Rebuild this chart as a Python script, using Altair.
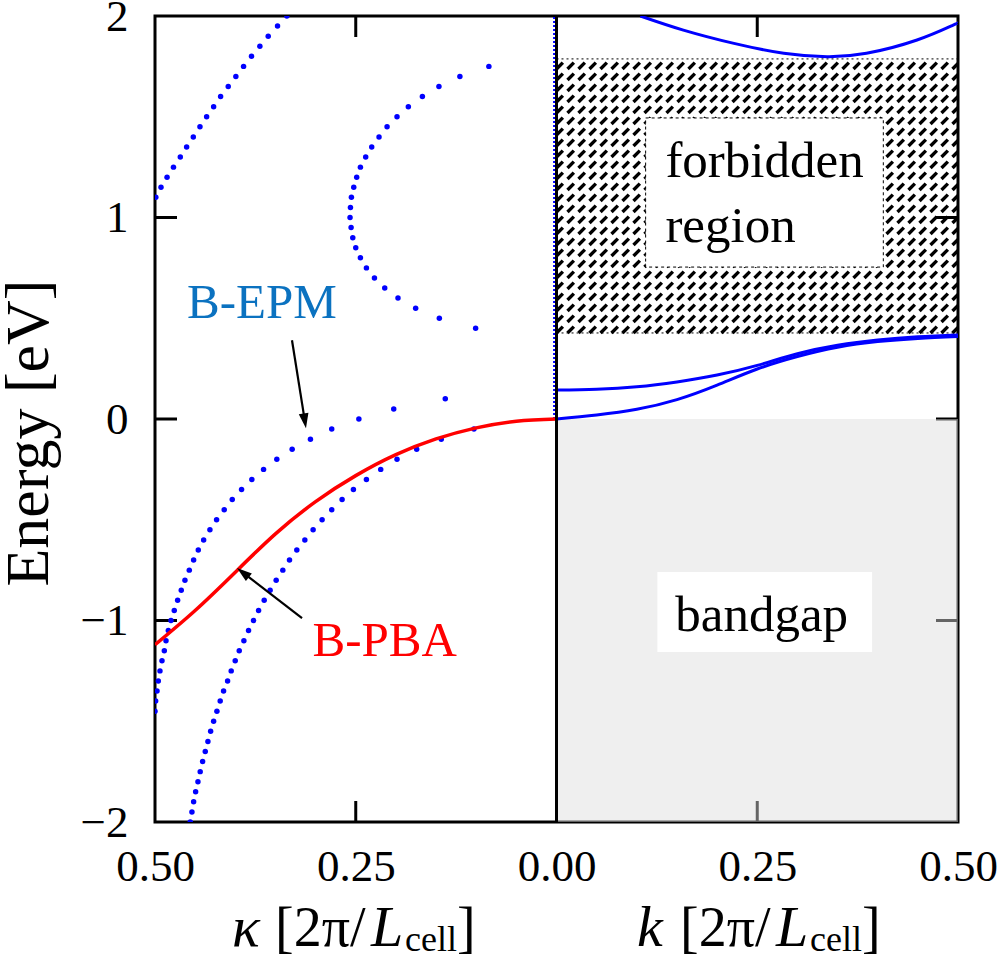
import altair as alt
import numpy as np
import pandas as pd

# ---------------- data ----------------
x_tick_values = [-0.5, -0.25, 0.0, 0.25, 0.5]
y_tick_values = [-2, -1, 0, 1, 2]
inner_x_ticks = [-0.25, 0.25]
inner_y_ticks = [1, 0, -1]

# imaginary branches (left panel, kappa), dots every 0.05 eV
epm_a_E = [1.10, 1.15, 1.20, 1.25, 1.30, 1.35, 1.40, 1.45, 1.50, 1.55, 1.60, 1.65, 1.70,
           1.75, 1.80, 1.85, 1.90, 1.95, 2.00]
epm_a_kappa = [0.499, 0.4925, 0.485, 0.477, 0.4685, 0.4606, 0.4523, 0.444, 0.4357, 0.427,
               0.4183, 0.4088, 0.3993, 0.3897, 0.3798, 0.3694, 0.359, 0.3474, 0.3358]

epm_b_E = [0.45, 0.50, 0.55, 0.60, 0.65, 0.70, 0.75, 0.80, 0.85, 0.90, 0.95, 1.00, 1.05,
           1.10, 1.15, 1.20, 1.25, 1.30, 1.35, 1.40, 1.45, 1.50, 1.55, 1.60, 1.65, 1.70, 1.75]
epm_b_kappa = [0.1007, 0.1459, 0.1754, 0.1974, 0.2139, 0.2267, 0.2367, 0.2442, 0.25, 0.2537,
               0.2558, 0.2571, 0.2566, 0.2554, 0.2525, 0.2488, 0.2442, 0.2376, 0.2301, 0.221,
               0.211, 0.1986, 0.1845, 0.167, 0.1464, 0.1203, 0.0842]

epm_c_E = [0.10, 0.05, 0.00, -0.05, -0.10, -0.15, -0.20, -0.25, -0.30, -0.35, -0.40, -0.45,
           -0.50, -0.55, -0.60, -0.65, -0.70, -0.75, -0.80, -0.85, -0.90, -0.95, -1.00,
           -1.05, -1.10, -1.15, -1.20, -1.25, -1.30, -1.35, -1.40, -1.45]
epm_c_kappa = [0.1385, 0.2027, 0.2461, 0.2799, 0.3064, 0.3292, 0.3483, 0.3648, 0.3794,
               0.3922, 0.4038, 0.4138, 0.4233, 0.4316, 0.4394, 0.4461, 0.4519, 0.4573,
               0.4627, 0.4673, 0.4718, 0.476, 0.4801, 0.4834, 0.4863, 0.4884, 0.4913,
               0.4938, 0.4959, 0.4975, 0.4992, 0.5]

epm_d_E = [-0.05, -0.10, -0.15, -0.20, -0.25, -0.30, -0.35, -0.40, -0.45, -0.50, -0.55,
           -0.60, -0.65, -0.70, -0.75, -0.80, -0.85, -0.90, -0.95, -1.00, -1.05, -1.10,
           -1.15, -1.20, -1.25, -1.30, -1.35, -1.40, -1.45, -1.50, -1.55, -1.60, -1.65,
           -1.70, -1.75, -1.80, -1.85, -1.90, -1.95, -2.00]
epm_d_kappa = [0.1028, 0.1435, 0.1741, 0.1986, 0.2189, 0.2367, 0.2529, 0.267, 0.2799,
               0.2919, 0.3031, 0.3134, 0.3234, 0.3325, 0.3408, 0.3491, 0.3566, 0.364,
               0.371, 0.3773, 0.3835, 0.3893, 0.3951, 0.4001, 0.4051, 0.4096, 0.4146,
               0.4188, 0.4229, 0.427, 0.4307, 0.4341, 0.4374, 0.4407, 0.4437, 0.4465,
               0.4494, 0.4519, 0.454, 0.4561]

# kappa ~ 0 branch (drawn as a dotted line along the divider)
epm_zero_kappa = [0.003, 0.003]
epm_zero_E = [0.0, 2.0]

# B-PBA (red)
pba_kappa = [0.0, 0.05, 0.1, 0.15, 0.2, 0.25, 0.3, 0.35, 0.4, 0.45, 0.5]
pba_E = [0.0, -0.011, -0.044, -0.099, -0.177, -0.281, -0.41, -0.57, -0.76, -0.95, -1.12]

# real bands (right panel, k)
band_k = [0.0, 0.05, 0.1, 0.15, 0.2, 0.25, 0.3, 0.35, 0.4, 0.45, 0.5]
band1_E = [0.0, 0.02, 0.048, 0.096, 0.168, 0.248, 0.31, 0.356, 0.384, 0.40, 0.41]
band2_E = [0.144, 0.148, 0.16, 0.184, 0.218, 0.266, 0.324, 0.366, 0.392, 0.408, 0.417]
band3_k = [0.1045, 0.158, 0.221, 0.283, 0.337, 0.386, 0.449, 0.494, 0.5]
band3_E = [2.0, 1.93, 1.864, 1.815, 1.798, 1.815, 1.881, 1.955, 1.963]

# regions
forbidden_k = [0.0, 0.5]
forbidden_E = [0.427, 1.787]
forbidden_box_k = [0.111, 0.407]
forbidden_box_E = [0.754, 1.494]
bandgap_k = [0.0, 0.5]
bandgap_E = [-2.0, 0.0]
bandgap_box_k = [0.1256, 0.393]
bandgap_box_E = [-1.156, -0.759]

# ---------------- chart ----------------
FONT = "Liberation Serif"
W, H = 803, 806
BLUE = "#0000ff"
RED = "#ff0000"

xs = alt.Scale(domain=[-0.5, 0.5], nice=False, zero=False)
ys = alt.Scale(domain=[-2, 2], nice=False, zero=False)
AX = alt.Axis(values=x_tick_values, labelExpr="format(abs(datum.value), '.2f')",
              ticks=False, domain=False, grid=False, title=None,
              labelFont=FONT, labelFontSize=45, labelColor="black",
              labelPadding=22, labelFlush=False, labelOverlap=False, labelBound=False)
AY = alt.Axis(values=y_tick_values, format="d",
              ticks=False, domain=False, grid=False, title=None,
              labelFont=FONT, labelFontSize=45, labelColor="black",
              labelPadding=27, labelFlush=False, labelOverlap=False, labelBound=False)


def X(f="x"):
    return alt.X(f"{f}:Q", scale=xs, axis=AX)


def Y(f="y"):
    return alt.Y(f"{f}:Q", scale=ys, axis=AY)


layers = []

# --- inward ticks ---
tx = pd.DataFrame({"x": inner_x_ticks})
ty = pd.DataFrame({"y": inner_y_ticks})
tick = dict(color="black", strokeWidth=3)
layers.append(alt.Chart(tx).mark_rule(**tick).encode(x=X(), y=alt.value(0), y2=alt.value(21)))
layers.append(alt.Chart(tx).mark_rule(**tick).encode(x=X(), y=alt.value(H - 21), y2=alt.value(H)))
layers.append(alt.Chart(ty).mark_rule(**tick).encode(y=Y(), x=alt.value(0), x2=alt.value(22)))
layers.append(alt.Chart(ty).mark_rule(**tick).encode(y=Y(), x=alt.value(W - 22), x2=alt.value(W)))

# --- bandgap shading ---
bg = pd.DataFrame({"x": [bandgap_k[0]], "x2": [bandgap_k[1]], "y": [bandgap_E[0]], "y2": [bandgap_E[1]]})
layers.append(alt.Chart(bg).mark_rect(color="#dcdcdc", opacity=0.46).encode(
    x=X(), x2="x2:Q", y=Y(), y2="y2:Q"))
bgb = pd.DataFrame({"x": [bandgap_box_k[0]], "x2": [bandgap_box_k[1]],
                    "y": [bandgap_box_E[0]], "y2": [bandgap_box_E[1]]})
layers.append(alt.Chart(bgb).mark_rect(color="white").encode(x=X(), x2="x2:Q", y=Y(), y2="y2:Q"))

# --- forbidden region hatch ---
px_x = W / 1.0
px_y = H / 4.0
Wp = (forbidden_k[1] - forbidden_k[0]) * px_x
Hp = (forbidden_E[1] - forbidden_E[0]) * px_y
sp = 11.0
rows = []
c = -np.floor(Hp / sp) * sp
while c < Wp:
    u0 = max(0.0, c)
    u1 = min(Wp, Hp + c)
    if u1 > u0:
        rows.append(dict(x=forbidden_k[0] + u0 / px_x, y=forbidden_E[0] + (u0 - c) / px_y,
                         x2=forbidden_k[0] + u1 / px_x, y2=forbidden_E[0] + (u1 - c) / px_y))
    c += sp
hatch = pd.DataFrame(rows)
layers.append(alt.Chart(hatch).mark_rule(color="black", strokeWidth=3.4,
                                         strokeDash=[9.0, sp * np.sqrt(2) - 9.0],
                                         strokeCap="butt").encode(
    x=X(), y=Y(), x2="x2:Q", y2="y2:Q"))
fr = pd.DataFrame({"x": [forbidden_k[0]], "x2": [forbidden_k[1]],
                   "y": [forbidden_E[0]], "y2": [forbidden_E[1]]})
layers.append(alt.Chart(fr).mark_rect(fillOpacity=0, stroke="black", strokeWidth=1,
                                      strokeDash=[2, 3]).encode(x=X(), x2="x2:Q", y=Y(), y2="y2:Q"))
frb = pd.DataFrame({"x": [forbidden_box_k[0]], "x2": [forbidden_box_k[1]],
                    "y": [forbidden_box_E[0]], "y2": [forbidden_box_E[1]]})
layers.append(alt.Chart(frb).mark_rect(fill="white", stroke="black", strokeWidth=1,
                                       strokeDash=[3, 3]).encode(x=X(), x2="x2:Q", y=Y(), y2="y2:Q"))

# --- region labels ---
reg_txt = pd.DataFrame({"x": [0.1356, 0.1356, 0.148], "y": [1.201, 0.878, -1.052],
                        "t": ["forbidden", "region", "bandgap"]})
layers.append(alt.Chart(reg_txt).mark_text(font=FONT, fontSize=51, align="left",
                                           baseline="alphabetic", color="black").encode(
    x=X(), y=Y(), text="t:N"))

# --- real bands (right) ---
bands = pd.concat([
    pd.DataFrame({"x": band_k, "y": band1_E, "b": "1"}),
    pd.DataFrame({"x": band_k, "y": band2_E, "b": "2"}),
    pd.DataFrame({"x": band3_k, "y": band3_E, "b": "3"}),
])
layers.append(alt.Chart(bands).mark_line(color=BLUE, strokeWidth=3, interpolate="natural",
                                         clip=True).encode(
    x=X(), y=Y(), detail="b:N"))

# --- kappa ~ 0 dotted line ---
z = pd.DataFrame({"x": [-k for k in epm_zero_kappa], "y": epm_zero_E})
layers.append(alt.Chart(z).mark_line(color=BLUE, strokeWidth=2, strokeDash=[2, 2]).encode(
    x=X(), y=Y()))

# --- imaginary branches (dots) ---
dots = pd.concat([
    pd.DataFrame({"x": [-k for k in epm_a_kappa], "y": epm_a_E}),
    pd.DataFrame({"x": [-k for k in epm_b_kappa], "y": epm_b_E}),
    pd.DataFrame({"x": [-k for k in epm_c_kappa], "y": epm_c_E}),
    pd.DataFrame({"x": [-k for k in epm_d_kappa], "y": epm_d_E}),
])
layers.append(alt.Chart(dots).mark_circle(color=BLUE, size=30, opacity=1, clip=True).encode(
    x=X(), y=Y()))

# --- B-PBA red line ---
pba = pd.DataFrame({"x": [-k for k in pba_kappa], "y": pba_E})
layers.append(alt.Chart(pba).mark_line(color=RED, strokeWidth=3.5, interpolate="natural",
                                       clip=True).encode(x=X(), y=Y()))

# --- divider ---
div = pd.DataFrame({"x": [0.0], "y": [-2.0], "y2": [2.0]})
layers.append(alt.Chart(div).mark_rule(color="black", strokeWidth=3).encode(x=X(), y=Y(), y2="y2:Q"))

# --- annotations ---
ann = pd.DataFrame({"x": [-0.3669, -0.2139], "y": [0.501, -1.176], "t": ["B-EPM", "B-PBA"],
                    "c": ["#0b72c0", RED]})
layers.append(alt.Chart(ann).mark_text(font=FONT, fontSize=49, align="center",
                                       baseline="alphabetic").encode(
    x=X(), y=Y(), text="t:N", color=alt.Color("c:N", scale=None)))

arrows = pd.DataFrame({"x": [-0.3294, -0.3169], "y": [0.3906, -0.988],
                       "x2": [-0.3143, -0.386], "y2": [0.0131, -0.7764]})
layers.append(alt.Chart(arrows).mark_rule(color="black", strokeWidth=2.2).encode(
    x=X(), y=Y(), x2="x2:Q", y2="y2:Q"))
heads = pd.DataFrame({"x": [-0.312, -0.3979], "y": [-0.0459, -0.740], "a": [171.0, 307.6]})
layers.append(alt.Chart(heads).mark_point(shape="M0,0L-0.65,2L0.65,2Z", filled=True,
                                          color="black", opacity=1, size=225).encode(
    x=X(), y=Y(), angle=alt.Angle("a:Q", scale=None)))

# --- axis titles (composed text, positioned in pixels) ---
one = pd.DataFrame({"d": [0]})
layers.append(alt.Chart(one).mark_text(text="Energy [eV]", font=FONT, fontSize=62, angle=270,
                                       align="center", baseline="alphabetic",
                                       color="black").encode(
    x=alt.value(-107), y=alt.value(417)))

title_text = ["κ", "[2π/", "L", "cell", "]", "k", "[2π/", "L", "cell", "]"]
title_px = [77, 120, 216, 250, 302, 482, 525, 621, 655, 707]
title_py = [930, 930, 930, 935, 930, 930, 930, 930, 935, 930]
title_fs = [58, 56, 58, 36, 56, 58, 56, 58, 36, 56]
title_st = ["italic", "normal", "italic", "normal", "normal",
            "italic", "normal", "italic", "normal", "normal"]
for t, px, py, fs, st in zip(title_text, title_px, title_py, title_fs, title_st):
    layers.append(alt.Chart(one).mark_text(text=t, font=FONT, fontSize=fs, fontStyle=st,
                                           align="left", baseline="alphabetic",
                                           color="black").encode(
        x=alt.value(px), y=alt.value(py)))

chart = alt.layer(*layers).properties(
    width=W, height=H,
    padding={"left": 155, "top": 16, "right": 41, "bottom": 136},
    autosize=alt.AutoSizeParams(type="none"),
).configure_view(stroke="black", strokeWidth=3)

chart.save("out.html", embed_options={"renderer": "svg", "actions": False})
